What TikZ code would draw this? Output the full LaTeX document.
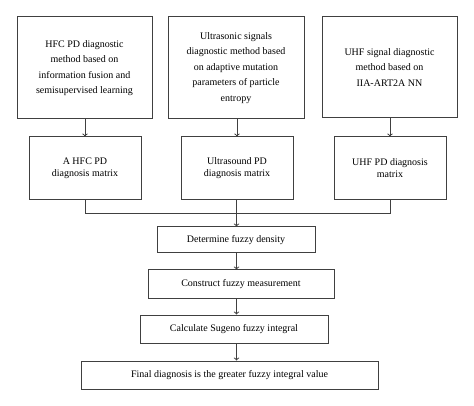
\documentclass[tikz,border=0pt]{standalone}
\usepackage{fontspec}
\setmainfont{Liberation Serif}
\usepackage{tikz}
\usetikzlibrary{arrows}
\tikzset{b/.style={draw=black!75, line width=1pt, align=center, inner sep=0pt,
  font=\fontsize{10}{15.5}\selectfont, text=black}}
\tikzset{s/.style={font=\fontsize{10}{12}\selectfont}}
\tikzset{l/.style={draw=black!75, line width=1pt}}

\begin{document}
\begin{tikzpicture}[x=1pt, y=-1pt]
    \useasboundingbox (0,0) rectangle (474,406);
    % methods
    \node[b, minimum width=135, minimum height=102] (m1) at (84.5,68)
      {HFC PD diagnostic\\method based on\\information fusion and\\semisupervised learning};
    \node[b, minimum width=136, minimum height=102] (m2) at (236,68)
      {Ultrasonic signals\\diagnostic method based\\on adaptive mutation\\parameters of particle\\entropy};
    \node[b, minimum width=135, minimum height=101] (m3) at (389.5,67.5)
      {UHF signal diagnostic\\method based on\\IIA-ART2A NN};
    % matrices
    \node[b, s, minimum width=112, minimum height=63] (d1) at (85,168.5)
      {A HFC PD\\diagnosis matrix};
    \node[b, s, minimum width=112, minimum height=63] (d2) at (237,168.5)
      {Ultrasound PD\\diagnosis matrix};
    \node[b, s, minimum width=112, minimum height=63] (d3) at (390,168.5)
      {UHF PD diagnosis\\matrix};
    % fusion steps
    \coordinate (j) at (236.5,214);
    \node[b, minimum width=158, minimum height=26] (dens) at (236,240)
      {Determine fuzzy density};
    \node[b, minimum width=186, minimum height=28] (meas) at (241,284)
      {Construct fuzzy measurement};
    \node[b, minimum width=188, minimum height=28] (sug) at (234,329)
      {Calculate Sugeno fuzzy integral};
    \node[b, minimum width=297, minimum height=28] (fin) at (229.5,375)
      {Final diagnosis is the greater fuzzy integral value};

    \draw[l,->] (m1.south -| d1) -- (d1);
    \draw[l,->] (m2.south -| d2) -- (d2);
    \draw[l,->] (m3.south -| d3) -- (d3);
    \draw[l] (d1.south) -- (d1.south |- j) -- (d3.south |- j) -- (d3.south);
    \draw[l] (d2.south -| j) -- (j);
    \draw[l,->] (j) -- (dens.north -| j);
    \draw[l,->] (dens.south -| j) -- (meas.north -| j);
    \draw[l,->] (meas.south -| j) -- (sug.north -| j);
    \draw[l,->] (sug.south -| j) -- (fin.north -| j);
  \end{tikzpicture}
\end{document}
